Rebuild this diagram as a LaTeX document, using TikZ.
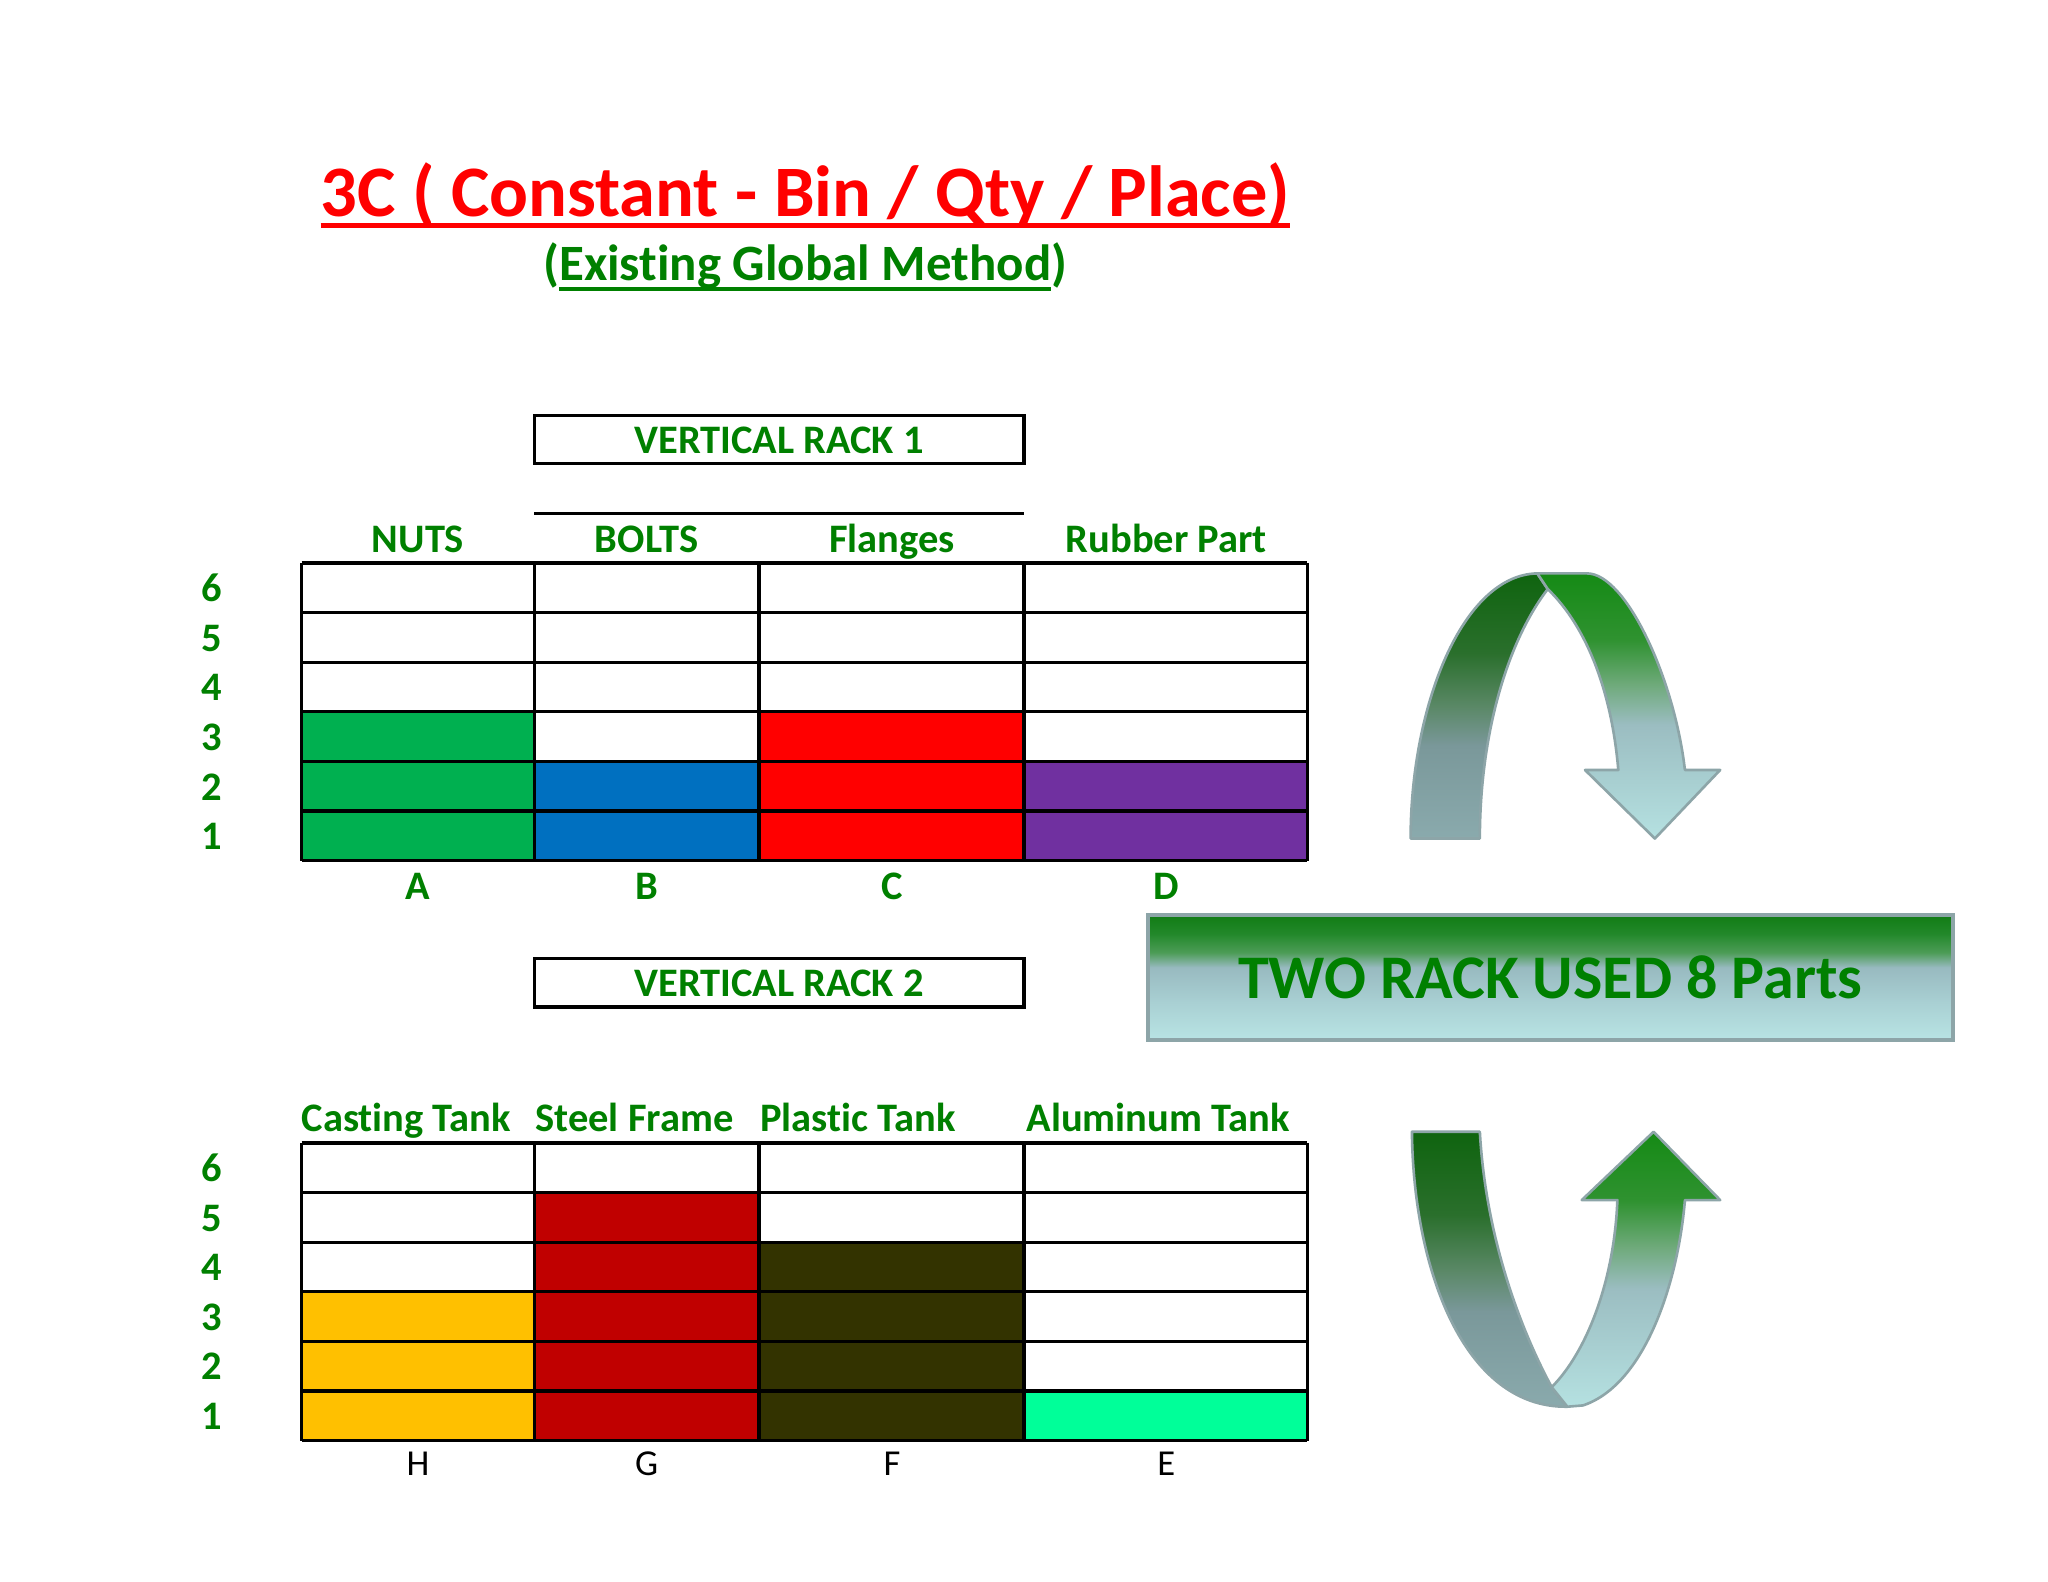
\documentclass[tikz,border=0pt]{standalone}
\usepackage{fontspec}
\setmainfont{Carlito}[Ligatures=NoCommon]
\definecolor{tgreen}{HTML}{008000}
\definecolor{tred}{HTML}{FF0000}
\definecolor{cA}{HTML}{00B050}
\definecolor{cB}{HTML}{0070C0}
\definecolor{cC}{HTML}{FF0000}
\definecolor{cD}{HTML}{7030A0}
\definecolor{cH}{HTML}{FFC000}
\definecolor{cG}{HTML}{C00000}
\definecolor{cF}{HTML}{333300}
\definecolor{cE}{HTML}{00FF99}
\definecolor{edgegray}{HTML}{8DA5A8}
% summary box shading colours
\definecolor{bx0}{HTML}{117C14}
\definecolor{bx1}{HTML}{22882A}
\definecolor{bx2}{HTML}{4C9C56}
\definecolor{bx3}{HTML}{98BAC0}
\definecolor{bx4}{HTML}{A9D0D3}
\definecolor{bx5}{HTML}{B8E4E4}
% back ribbon colours
\definecolor{bk0}{HTML}{0F640F}
\definecolor{bk1}{HTML}{2A6F2C}
\definecolor{bk2}{HTML}{5A8866}
\definecolor{bk3}{HTML}{7A989A}
\definecolor{bk4}{HTML}{8AAAAD}
% front ribbon colours
\definecolor{fr0}{HTML}{158A15}
\definecolor{fr1}{HTML}{2F9230}
\definecolor{fr2}{HTML}{6FAA7B}
\definecolor{fr3}{HTML}{9BBDC1}
\definecolor{fr4}{HTML}{B5E1E1}
\pgfdeclareverticalshading{boxshade}{100bp}{color(0bp)=(bx5); color(25bp)=(bx5); color(40bp)=(bx4); color(54bp)=(bx3); color(60bp)=(bx2); color(67.5bp)=(bx1); color(75bp)=(bx0); color(100bp)=(bx0)}
\pgfdeclareverticalshading{backshade}{100bp}{color(0bp)=(bk4); color(25bp)=(bk4); color(42.5bp)=(bk3); color(50bp)=(bk2); color(60bp)=(bk1); color(75bp)=(bk0); color(100bp)=(bk0)}
\pgfdeclareverticalshading{frontshade}{100bp}{color(0bp)=(fr4); color(25bp)=(fr4); color(46.5bp)=(fr3); color(54bp)=(fr2); color(62.5bp)=(fr1); color(75bp)=(fr0); color(100bp)=(fr0)}
\begin{document}
\begin{tikzpicture}[x=1pt,y=-1pt,
  txt/.style={inner sep=0pt,outer sep=0pt,text=tgreen},
  hdr/.style={txt,anchor=base,font=\bfseries\fontsize{31}{36}\selectfont},
  rowlbl/.style={hdr},
  collbl/.style={hdr},
  collblb/.style={inner sep=0pt,anchor=base,text=black,font=\fontsize{28}{32}\selectfont},
  rackbox/.style={draw=black,line width=2.5pt,minimum width=375pt,minimum height=37pt,inner sep=0pt,
     text=tgreen,font=\bfseries\fontsize{31}{36}\selectfont,text height=21pt,text depth=0pt},
  gridline/.style={black,line width=2.5pt},
  ribbon/.style={draw=edgegray,line width=2pt,line join=round,shade}
]
\useasboundingbox[fill=white] (0,0) rectangle (1568,1211);

% Title
\node[txt,text=tred,anchor=base,font=\bfseries\fontsize{55.5}{62}\selectfont] (title) at (616.5,165.4) {3C ( Constant - Bin / Qty / Place)};
\draw[tred,line width=3.8pt] ([yshift=-7pt]title.base west) -- ([yshift=-7pt]title.base east);
\node[txt,anchor=base,font=\bfseries\fontsize{39}{46}\selectfont] (subM) at (616.5,214.4) {Existing Global Method};
\node[txt,anchor=base east,font=\bfseries\fontsize{39}{46}\selectfont] (subL) at (subM.base west) {(};
\node[txt,anchor=base west,font=\bfseries\fontsize{39}{46}\selectfont] (subR) at (subM.base east) {)};
\draw[tgreen,line width=3pt] ([yshift=-7pt]subM.base west) -- ([yshift=-7pt]subM.base east);

% ---------- Rack 1 ----------
\node[rackbox] (rack1) at (596.5,336.5) {VERTICAL RACK 1};
\coordinate (r1lineL) at (409,393);
\coordinate (r1lineR) at (784,393);
\draw[gridline] (r1lineL) -- (r1lineR);

\node[hdr] (nuts) at (320,423) {NUTS};
\node[hdr] (bolts) at (495,423) {BOLTS};
\node[hdr] (flanges) at (683,423) {Flanges};
\node[hdr] (rubber) at (893,423) {Rubber Part};

\fill[cA] (231,545) rectangle (409,659);
\fill[cB] (409,583) rectangle (581,659);
\fill[cC] (581,545) rectangle (784,659);
\fill[cD] (784,583) rectangle (1001,659);
\foreach \y in {431,469,507,545,583,621,659} \draw[gridline] (231,\y) -- (1001,\y);
\foreach \x in {231,409,581,784,1001} \draw[gridline] (\x,431) -- (\x,659);

\foreach \n/\y in {6/450,5/488,4/526,3/564,2/602,1/640}
  \node[rowlbl] (ra\n) at (162,\y+10.5) {\n};
\node[collbl] (colA) at (320,689) {A};
\node[collbl] (colB) at (495,689) {B};
\node[collbl] (colC) at (683,689) {C};
\node[collbl] (colD) at (893,689) {D};

% ---------- Rack 2 ----------
\node[rackbox] (rack2) at (596.5,752.5) {VERTICAL RACK 2};

\node[hdr,anchor=base west] (casting) at (231,866.5) {Casting Tank};
\node[hdr,anchor=base west] (steel) at (410,866.5) {Steel Frame};
\node[hdr,anchor=base west] (plastic) at (582,866.5) {Plastic Tank};
\node[hdr,anchor=base west] (alum) at (786,866.5) {Aluminum Tank};

\fill[cH] (231,989) rectangle (409,1103);
\fill[cG] (409,913) rectangle (581,1103);
\fill[cF] (581,951) rectangle (784,1103);
\fill[cE] (784,1065) rectangle (1001,1103);
\foreach \y in {875,913,951,989,1027,1065,1103} \draw[gridline] (231,\y) -- (1001,\y);
\foreach \x in {231,409,581,784,1001} \draw[gridline] (\x,875) -- (\x,1103);

\foreach \n/\y in {6/894,5/932,4/970,3/1008,2/1046,1/1084}
  \node[rowlbl] (rb\n) at (162,\y+10.5) {\n};
\node[collblb] (colH) at (320,1130) {H};
\node[collblb] (colG) at (495,1130) {G};
\node[collblb] (colF) at (683,1130) {F};
\node[collblb] (colE) at (893,1130) {E};

% ---------- Summary box ----------
\node[draw=edgegray,line width=2.8pt,minimum width=616pt,minimum height=96pt,inner sep=0pt,
  shade,shading=boxshade,
  text=tgreen,font=\bfseries\fontsize{47.5}{54}\selectfont,text height=32pt,text depth=0pt]
  (summary) at (1187,748.4) {TWO RACK USED 8 Parts};

% ---------- Top curved arrow ----------
\path[ribbon,shading=backshade]
  (1080,642) -- (1133,642)
  .. controls (1133,560) and (1155,490) .. (1185,451)
  -- (1177,439)
  .. controls (1120,440) and (1080,540) .. cycle;
\path[ribbon,shading=frontshade]
  (1177,439) -- (1215,439)
  .. controls (1245,439) and (1282,520) .. (1290,589.5)
  -- (1317,589.5) -- (1267,642) -- (1213.5,589.5) -- (1239,589.5)
  .. controls (1234,530) and (1215,480) .. (1185,451) -- cycle;

% ---------- Bottom curved arrow ----------
\path[ribbon,shading=backshade]
  (1081,866.5) -- (1133,866.5)
  .. controls (1137,940) and (1160,1010) .. (1188,1062)
  -- (1200,1077)
  .. controls (1120,1078) and (1082,970) .. cycle;
\path[ribbon,shading=frontshade]
  (1188,1062) -- (1200,1077) -- (1212,1076)
  .. controls (1260,1060) and (1285,980) .. (1290,918.8)
  -- (1317,918.8) -- (1266,866.5) -- (1211,918.8) -- (1238.3,918.8)
  .. controls (1236,980) and (1215,1035) .. cycle;
\end{tikzpicture}
\end{document}
